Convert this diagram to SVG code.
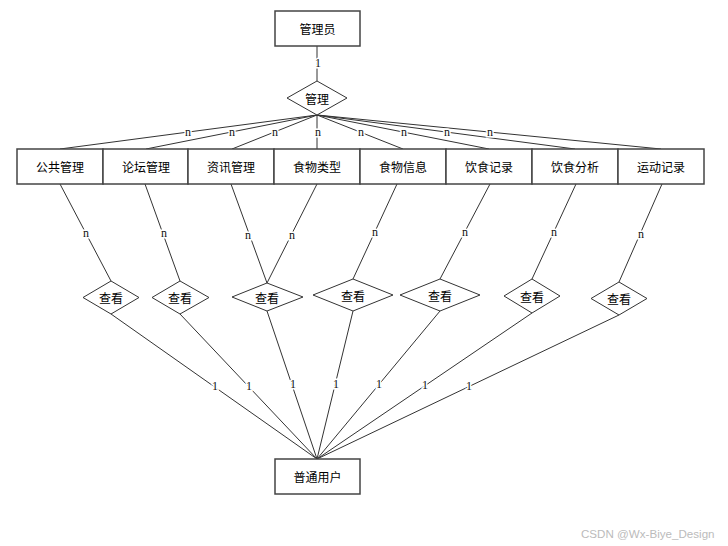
<svg xmlns="http://www.w3.org/2000/svg" width="728" height="546" viewBox="0 0 728 546">
<style>
.box{fill:#fff;stroke:#444;stroke-width:1.5}
.dia{fill:#fff;stroke:#333;stroke-width:1}
.t{font-family:"Noto Sans CJK SC","Liberation Sans",sans-serif;font-size:12px;fill:#000;text-anchor:middle;dominant-baseline:central}
.c line{stroke:#333;stroke-width:1}
.lb{font-family:"Liberation Serif","DejaVu Serif",serif;font-size:12px;fill:#111;text-anchor:middle;dominant-baseline:central;stroke:#fff;stroke-width:3;paint-order:stroke}
.wm{font-family:"Liberation Sans",sans-serif;font-size:11.6px;fill:#bbb}
</style>
<rect width="728" height="546" fill="#fff"/>
<g id="connectors" class="c">
<line x1="317" y1="46" x2="317" y2="81"/>
<line x1="317" y1="115" x2="60" y2="149"/>
<line x1="317" y1="115" x2="146" y2="149"/>
<line x1="317" y1="115" x2="232" y2="149"/>
<line x1="317" y1="115" x2="317" y2="149"/>
<line x1="317" y1="115" x2="403" y2="149"/>
<line x1="317" y1="115" x2="489" y2="149"/>
<line x1="317" y1="115" x2="575" y2="149"/>
<line x1="317" y1="115" x2="661" y2="149"/>
<line x1="60" y1="184" x2="111" y2="281"/>
<line x1="145" y1="184" x2="180" y2="281"/>
<line x1="231" y1="184" x2="267" y2="283"/>
<line x1="317" y1="184" x2="267" y2="283"/>
<line x1="397" y1="184" x2="353" y2="279"/>
<line x1="490" y1="184" x2="440" y2="279"/>
<line x1="576" y1="184" x2="532" y2="279"/>
<line x1="662" y1="184" x2="619" y2="282"/>
<line x1="111" y1="314" x2="317" y2="459"/>
<line x1="180" y1="314" x2="317" y2="459"/>
<line x1="267" y1="311" x2="317" y2="459"/>
<line x1="353" y1="311" x2="317" y2="459"/>
<line x1="440" y1="311" x2="317" y2="459"/>
<line x1="532" y1="313" x2="317" y2="459"/>
<line x1="619" y1="315" x2="317" y2="459"/>
<text class="lb" x="318" y="63">1</text>
<text class="lb" x="188" y="132">n</text>
<text class="lb" x="232" y="132">n</text>
<text class="lb" x="275" y="132">n</text>
<text class="lb" x="318" y="132">n</text>
<text class="lb" x="361" y="132">n</text>
<text class="lb" x="404" y="132">n</text>
<text class="lb" x="447" y="132">n</text>
<text class="lb" x="490" y="132">n</text>
<text class="lb" x="86" y="233">n</text>
<text class="lb" x="164" y="233">n</text>
<text class="lb" x="248" y="235">n</text>
<text class="lb" x="292" y="235">n</text>
<text class="lb" x="375" y="232">n</text>
<text class="lb" x="465" y="232">n</text>
<text class="lb" x="554" y="232">n</text>
<text class="lb" x="641" y="234">n</text>
<text class="lb" x="215" y="386">1</text>
<text class="lb" x="249" y="386">1</text>
<text class="lb" x="293" y="384">1</text>
<text class="lb" x="336" y="384">1</text>
<text class="lb" x="379" y="384">1</text>
<text class="lb" x="425" y="385">1</text>
<text class="lb" x="469" y="386">1</text>
</g>
<g id="admin"><rect class="box" x="275" y="11" width="85" height="35"/><text class="t" x="317.5" y="28.5">管理员</text></g>
<g id="manage"><polygon class="dia" points="317,81 347,98 317,115 287,98"/><text class="t" x="317" y="98">管理</text></g>
<g id="e1"><rect class="box" x="17" y="149" width="86" height="35"/><text class="t" x="60" y="166.5">公共管理</text></g>
<g id="e2"><rect class="box" x="103" y="149" width="85" height="35"/><text class="t" x="146" y="166.5">论坛管理</text></g>
<g id="e3"><rect class="box" x="188" y="149" width="86" height="35"/><text class="t" x="231" y="166.5">资讯管理</text></g>
<g id="e4"><rect class="box" x="274" y="149" width="86" height="35"/><text class="t" x="317" y="166.5">食物类型</text></g>
<g id="e5"><rect class="box" x="360" y="149" width="86" height="35"/><text class="t" x="403" y="166.5">食物信息</text></g>
<g id="e6"><rect class="box" x="446" y="149" width="86" height="35"/><text class="t" x="489" y="166.5">饮食记录</text></g>
<g id="e7"><rect class="box" x="532" y="149" width="86" height="35"/><text class="t" x="575" y="166.5">饮食分析</text></g>
<g id="e8"><rect class="box" x="618" y="149" width="86" height="35"/><text class="t" x="661" y="166.5">运动记录</text></g>
<g id="v1"><polygon class="dia" points="111,281 139,297.5 111,314 83,297.5"/><text class="t" x="111" y="297.5">查看</text></g>
<g id="v2"><polygon class="dia" points="180,281 209,297.5 180,314 152,297.5"/><text class="t" x="180" y="297.5">查看</text></g>
<g id="v3"><polygon class="dia" points="267,283 303,297 267,311 232,297"/><text class="t" x="267" y="297">查看</text></g>
<g id="v4"><polygon class="dia" points="353,279 393,295 353,311 313,295"/><text class="t" x="353" y="295">查看</text></g>
<g id="v5"><polygon class="dia" points="440,279 480,295 440,311 400,295"/><text class="t" x="440" y="295">查看</text></g>
<g id="v6"><polygon class="dia" points="532,279 560,296 532,313 504,296"/><text class="t" x="532" y="296">查看</text></g>
<g id="v7"><polygon class="dia" points="619,282 647,298.5 619,315 591,298.5"/><text class="t" x="619" y="298.5">查看</text></g>
<g id="user"><rect class="box" x="275" y="459" width="85" height="35"/><text class="t" x="317.5" y="476.5">普通用户</text></g>
<text class="wm" x="581" y="538">CSDN @Wx-Biye_Design</text>
</svg>
